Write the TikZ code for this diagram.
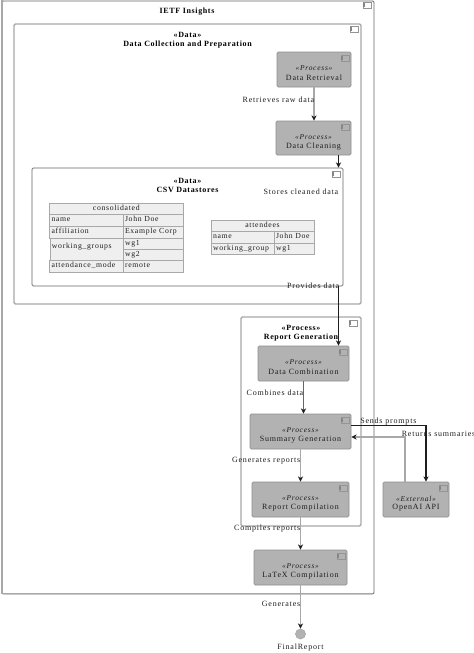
\documentclass[tikz,border=0pt]{standalone}
\usepackage{fontspec}
\setmainfont{Liberation Serif}
\definecolor{procfill}{HTML}{B2B2B2}
\definecolor{edgegray}{HTML}{A8A8A8}
\definecolor{framedark}{HTML}{666666}
\definecolor{cellfill}{HTML}{EFEFEF}
\definecolor{inkc}{HTML}{1E1E1E}
\newcommand{\lbl}{\fontsize{6pt}{7pt}\selectfont\addfontfeature{LetterSpace=10}}
\newcommand{\lblc}{\fontsize{5.8pt}{7pt}\selectfont\addfontfeature{LetterSpace=9}}
\newcommand{\lblb}{\fontsize{6pt}{7pt}\selectfont\bfseries\addfontfeature{LetterSpace=8}}
\newcommand{\lbli}{\fontsize{5.6pt}{7pt}\selectfont\itshape\addfontfeature{LetterSpace=10}}
\usetikzlibrary{arrows.meta}
\tikzset{
  x=0.75pt,y=-0.75pt,
  framebox/.style={draw=edgegray,line width=1pt,rounded corners=1pt,fill=white},
  darkframe/.style={draw=framedark,line width=0.6pt,rounded corners=1pt,fill=white},
  procbox/.style={draw=edgegray!85!black,line width=0.5pt,fill=procfill,rounded corners=1pt},
  txt/.style={inner sep=0pt,text=inkc,align=center,font=\lbl},
  ttl/.style={inner sep=0pt,text=black,align=center,font=\lblb},
  cell/.style={draw=edgegray,line width=0.7pt,fill=cellfill,inner sep=0pt,text=inkc,font=\lblc,text height=4pt,text depth=1.2pt},
  grayedge/.style={draw=edgegray,line width=0.8pt,-{Stealth[length=4pt,width=4pt,color=inkc]}},
  darkedge/.style={draw=inkc,line width=0.9pt,-{Stealth[length=4pt,width=4pt,color=inkc]}},
  iconr/.style={draw=framedark!70,line width=0.45pt}
}
% name x1 y1 x2 y2 stereotype title
\newcommand{\comp}[7]{%
  \pgfmathsetmacro{\wv}{(#4-#2)*0.75}\pgfmathsetmacro{\hv}{(#5-#3)*0.75}%
  \node[procbox,minimum width=\wv pt,minimum height=\hv pt,inner sep=0pt] (#1) at ({(#2+#4)/2},{(#3+#5)/2}) {};
  \node[txt] (#1-s) at ({(#2+#4)/2},{#3+16.5}) {\lbli #6};
  \node[txt] (#1-t) at ({(#2+#4)/2},{#3+25.5}) {#7};
  \icon{#4-6}{#3+6}%
}
\newcommand{\icon}[2]{%
  \path[iconr] ({#1-4},{#2-3}) rectangle ({#1+4},{#2+3});
  \path[fill=framedark!80] ({#1-4.5},{#2-2}) rectangle ({#1-2.5},{#2+2});
}
% name x1 y1 x2 y2 alignment text
\newcommand{\tcell}[7]{%
  \pgfmathsetmacro{\wv}{(#4-#2)*0.75}\pgfmathsetmacro{\hv}{(#5-#3)*0.75}%
  \node[cell,minimum width=\wv pt,minimum height=\hv pt,text width={\wv pt-3pt},align=#6] (#1) at ({(#2+#4)/2},{(#3+#5)/2}) {\mbox{#7}};
}
\begin{document}
\begin{tikzpicture}
\useasboundingbox (0,0) rectangle (474,653);
% outer frame
\node[draw=framedark,line width=0.7pt,rounded corners=1pt,fill=white,minimum width={372*0.75pt},minimum height={593*0.75pt},inner sep=0pt] (outer) at (188,297.5) {};
\draw[edgegray,line width=1.2pt] (2,0) -- (2,593.5) -- (372,593.5);
\node[ttl] (outert) at (187,11.5) {IETF Insights};
\icon{367}{5}
% data collection
\node[framebox,minimum width={347*0.75pt},minimum height={280*0.75pt},inner sep=0pt] (dcp) at (187.5,164) {};
\node[ttl] (dcpt) at (187.5,40.5) {«Data»\\Data Collection and Preparation};
\icon{354}{29}
\comp{ret}{277}{52}{351}{87}{«Process»}{Data Retrieval}
\comp{cln}{276}{121}{351}{155}{«Process»}{Data Cleaning}
% csv
\node[darkframe,minimum width={311*0.75pt},minimum height={118*0.75pt},inner sep=0pt] (csv) at (187.5,227) {};
\node[ttl] (csvt) at (187.5,185.5) {«Data»\\CSV Datastores};
\icon{336}{174}
\node[txt] (storesl) at (301,192) {Stores cleaned data};
% consolidated
\tcell{c0}{49.5}{203}{183}{214}{center}{consolidated}
\tcell{c1a}{49.5}{214}{123}{226}{left}{name}
\tcell{c1b}{123}{214}{183}{226}{left}{John Doe}
\tcell{c2a}{49.5}{226}{123}{238}{left}{affiliation}
\tcell{c2b}{123}{226}{183}{238}{left}{Example Corp}
\node[cell,minimum width={73.5*0.75pt},minimum height={22*0.75pt},text width={73.5*0.75pt-3pt},align=left,anchor=north west,text height=7pt,text depth=9pt] (c3a) at (49.5,238) {\mbox{working\_groups}};
\tcell{c3b}{123}{238}{183}{249}{left}{wg1}
\tcell{c4b}{123}{249}{183}{260}{left}{wg2}
\tcell{c5a}{49.5}{260}{123}{272}{left}{attendance\_mode}
\tcell{c5b}{123}{260}{183}{272}{left}{remote}
% attendees
\tcell{a0}{211}{220}{314}{231}{center}{attendees}
\tcell{a1a}{211}{231}{274}{243}{left}{name}
\tcell{a1b}{274}{231}{314}{243}{left}{John Doe}
\tcell{a2a}{211}{243}{274}{254}{left}{working\_group}
\tcell{a2b}{274}{243}{314}{254}{left}{wg1}
% report generation
\node[framebox,minimum width={120*0.75pt},minimum height={209*0.75pt},inner sep=0pt] (rg) at (301,421.5) {};
\node[ttl] (rgt) at (301,333.5) {«Process»\\Report Generation};
\icon{353}{323}
\comp{dcb}{258}{346}{349}{381}{«Process»}{Data Combination}
\comp{sum}{250}{414}{351}{449}{«Process»}{Summary Generation}
\comp{rep}{252}{482}{349}{517}{«Process»}{Report Compilation}
\comp{ext}{383}{482}{449}{517}{«External»}{OpenAI API}
\comp{ltx}{254}{550}{347}{585}{«Process»}{LaTeX Compilation}
% final report
\node[circle,draw=edgegray,fill=procfill,line width=0.5pt,minimum size={10*0.75pt},inner sep=0pt] (fin) at (300.5,634) {};
\node[txt] (fint) at (300.5,648) {FinalReport};
% connectors
\draw[grayedge] (ret.south -| 314,0) -- (cln.north -| 314,0);
\node[txt,anchor=east] (l1) at (314.5,99.5) {Retrieves raw data};
\draw[darkedge] (cln.south -| 338.5,0) -- (csv.north -| 338.5,0);
\draw[darkedge] (csv.south -| 338.5,0) -- (dcb.north -| 338.5,0);
\node[txt,anchor=east] (l2) at (339.5,286) {Provides data};
\draw[grayedge,draw=framedark] (dcb.south -| 303.5,0) -- (sum.north -| 303.5,0);
\node[txt,anchor=east] (l3) at (303.5,392.5) {Combines data};
\draw[darkedge] (sum.east |- 0,425.5) -- (426,425.5) -- (ext.north -| 426,0);
\node[txt,anchor=west] (l4) at (360,421.5) {Sends prompts};
\draw[grayedge] (ext.north -| 405,0) -- (405,437) -- (sum.east |- 0,437);
\node[txt,anchor=west] (l5) at (401.5,433.5) {Returns summaries};
\draw[grayedge] (sum.south -| 300.5,0) -- (rep.north -| 300.5,0);
\node[txt,anchor=east] (l6) at (300.5,461) {Generates reports};
\draw[grayedge] (rep.south -| 300.5,0) -- (ltx.north -| 300.5,0);
\node[txt,anchor=east] (l7) at (300.5,529) {Compiles reports};
\draw[grayedge] (ltx.south -| 300.5,0) -- (fin.north);
\node[txt,anchor=east] (l8) at (300.5,603.5) {Generates};
\end{tikzpicture}
\end{document}
